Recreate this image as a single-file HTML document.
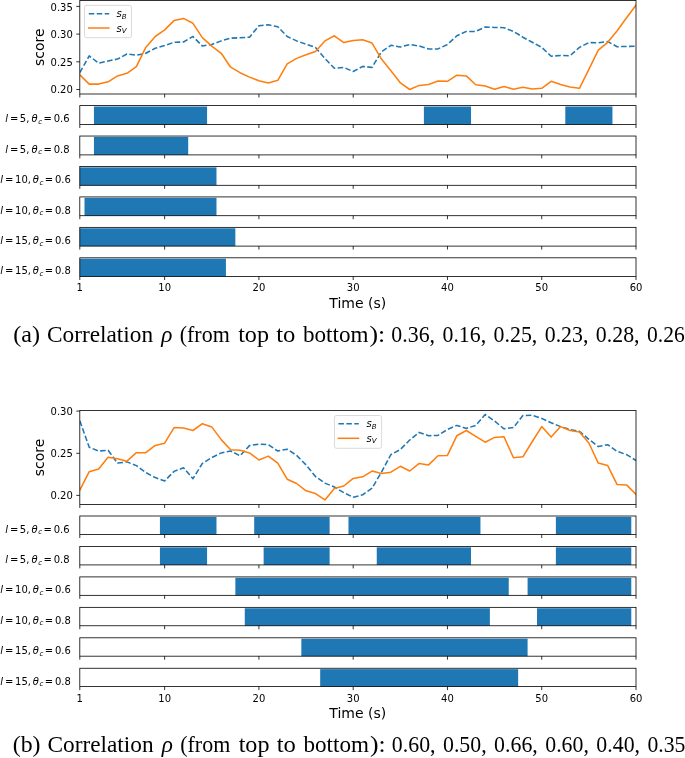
<!DOCTYPE html>
<html lang="en"><head><meta charset="utf-8"><title>Figure</title>
<style>
html,body{margin:0;padding:0;background:#fff;}
svg{display:block;}
text{fill:#000;}
.t10{font-family:"DejaVu Sans","Liberation Sans",sans-serif;font-size:10px;}
.t14{font-family:"DejaVu Sans","Liberation Sans",sans-serif;font-size:14px;}
.it{font-style:italic;}
.cap{font-family:"Liberation Serif","DejaVu Serif",serif;font-size:22.4px;}
</style></head><body>
<svg width="685" height="758" viewBox="0 0 685 758">
<rect width="685" height="758" fill="#fff"/>
<clipPath id="c1"><rect x="79.8" y="0.5" width="556.20" height="93.5"/></clipPath>
<g clip-path="url(#c1)">
<polyline points="79.80,72.60 89.23,55.90 98.65,63.20 108.08,61.00 117.51,59.10 126.94,54.00 136.36,55.20 145.79,53.30 155.22,48.20 164.64,45.50 174.07,42.30 183.50,42.00 192.93,36.50 202.35,46.00 211.78,44.50 221.21,40.90 230.63,38.20 240.06,37.70 249.49,37.20 258.92,25.80 268.34,24.80 277.77,26.70 287.20,36.50 296.62,40.90 306.05,44.20 315.48,47.40 324.91,58.40 334.33,68.30 343.76,67.40 353.19,71.50 362.61,66.40 372.04,67.40 381.47,51.80 390.89,45.30 400.32,47.00 409.75,44.50 419.18,46.00 428.60,48.90 438.03,48.90 447.46,44.50 456.88,35.80 466.31,31.40 475.74,31.40 485.17,27.00 494.59,27.40 504.02,27.70 513.45,31.40 522.87,37.20 532.30,42.30 541.73,47.40 551.16,56.20 560.58,55.50 570.01,55.80 579.44,47.40 588.86,42.60 598.29,42.80 607.72,41.60 617.15,46.70 626.57,46.40 636.00,46.30" fill="none" stroke="#1f77b4" stroke-width="1.55" stroke-linejoin="round" stroke-linecap="butt" stroke-dasharray="5.55 2.4"/>
<polyline points="79.80,74.90 89.23,84.10 98.65,84.10 108.08,81.80 117.51,75.90 126.94,73.30 136.36,66.70 145.79,47.40 155.22,36.50 164.64,29.90 174.07,20.60 183.50,18.40 192.93,23.30 202.35,37.70 211.78,46.20 221.21,53.30 230.63,67.20 240.06,72.70 249.49,77.10 258.92,80.70 268.34,82.90 277.77,80.30 287.20,63.90 296.62,58.40 306.05,54.70 315.48,51.40 324.91,40.90 334.33,35.80 343.76,42.60 353.19,40.40 362.61,39.80 372.04,43.10 381.47,59.10 390.89,70.80 400.32,82.80 409.75,89.50 419.18,85.40 428.60,84.40 438.03,81.00 447.46,81.30 456.88,75.20 466.31,75.90 475.74,84.70 485.17,86.10 494.59,89.30 504.02,86.40 513.45,89.30 522.87,87.30 532.30,89.00 541.73,88.30 551.16,81.30 560.58,84.40 570.01,86.90 579.44,88.30 588.86,69.30 598.29,50.10 607.72,42.30 617.15,30.70 626.57,17.80 636.00,5.10" fill="none" stroke="#ff7f0e" stroke-width="1.55" stroke-linejoin="round" stroke-linecap="square"/>
</g>
<rect x="79.8" y="0.5" width="556.20" height="93.50" fill="none" stroke="#000" stroke-width="0.8"/>
<line x1="79.80" x2="79.80" y1="94.0" y2="97.5" stroke="#000" stroke-width="0.8"/>
<line x1="164.64" x2="164.64" y1="94.0" y2="97.5" stroke="#000" stroke-width="0.8"/>
<line x1="258.92" x2="258.92" y1="94.0" y2="97.5" stroke="#000" stroke-width="0.8"/>
<line x1="353.19" x2="353.19" y1="94.0" y2="97.5" stroke="#000" stroke-width="0.8"/>
<line x1="447.46" x2="447.46" y1="94.0" y2="97.5" stroke="#000" stroke-width="0.8"/>
<line x1="541.73" x2="541.73" y1="94.0" y2="97.5" stroke="#000" stroke-width="0.8"/>
<line x1="636.00" x2="636.00" y1="94.0" y2="97.5" stroke="#000" stroke-width="0.8"/>
<line x1="76.3" x2="79.8" y1="6.4" y2="6.4" stroke="#000" stroke-width="0.8"/>
<text x="72.8" y="11.20" text-anchor="end" class="t10">0.35</text>
<line x1="76.3" x2="79.8" y1="34.1" y2="34.1" stroke="#000" stroke-width="0.8"/>
<text x="72.8" y="38.20" text-anchor="end" class="t10">0.30</text>
<line x1="76.3" x2="79.8" y1="61.8" y2="61.8" stroke="#000" stroke-width="0.8"/>
<text x="72.8" y="65.60" text-anchor="end" class="t10">0.25</text>
<line x1="76.3" x2="79.8" y1="89.5" y2="89.5" stroke="#000" stroke-width="0.8"/>
<text x="72.8" y="93.30" text-anchor="end" class="t10">0.20</text>
<text transform="translate(44.2,47.2) rotate(-90)" text-anchor="middle" class="t14">score</text>
<rect x="84.5" y="5.4" width="47.00" height="32.30" rx="2" ry="2" fill="#fff" fill-opacity="0.8" stroke="#ccc" stroke-opacity="0.8" stroke-width="0.9"/>
<line x1="88.8" x2="109.2" y1="13.7" y2="13.7" stroke="#1f77b4" stroke-width="1.5" stroke-dasharray="5.55 2.4"/>
<line x1="88.05" x2="109.60" y1="28.0" y2="28.0" stroke="#ff7f0e" stroke-width="1.5"/>
<text x="116.6" y="17.20" class="t10 it">s<tspan dy="1.6" font-size="7">B</tspan></text>
<text x="116.6" y="31.50" class="t10 it">s<tspan dy="1.6" font-size="7">V</tspan></text>
<rect x="93.94" y="106.50" width="113.13" height="18.00" fill="#1f77b4"/>
<rect x="423.89" y="106.50" width="47.14" height="18.00" fill="#1f77b4"/>
<rect x="565.30" y="106.50" width="47.14" height="18.00" fill="#1f77b4"/>
<rect x="79.8" y="105.6" width="556.20" height="18.90" fill="none" stroke="#000" stroke-width="0.8"/>
<line x1="79.80" x2="79.80" y1="124.5" y2="128.0" stroke="#000" stroke-width="0.8"/>
<line x1="164.64" x2="164.64" y1="124.5" y2="128.0" stroke="#000" stroke-width="0.8"/>
<line x1="258.92" x2="258.92" y1="124.5" y2="128.0" stroke="#000" stroke-width="0.8"/>
<line x1="353.19" x2="353.19" y1="124.5" y2="128.0" stroke="#000" stroke-width="0.8"/>
<line x1="447.46" x2="447.46" y1="124.5" y2="128.0" stroke="#000" stroke-width="0.8"/>
<line x1="541.73" x2="541.73" y1="124.5" y2="128.0" stroke="#000" stroke-width="0.8"/>
<line x1="636.00" x2="636.00" y1="124.5" y2="128.0" stroke="#000" stroke-width="0.8"/>
<text class="t10" y="122.35"><tspan class="it" x="5.2">l</tspan><tspan x="9.94">=</tspan><tspan x="19.8">5</tspan><tspan x="26.16">,</tspan><tspan class="it" x="31.6">θ</tspan><tspan class="it" x="38.2" y="123.95" font-size="7">c</tspan><tspan x="43.5" y="122.35">=</tspan><tspan x="53.7">0.6</tspan></text>
<rect x="93.94" y="136.94" width="94.27" height="17.96" fill="#1f77b4"/>
<rect x="79.8" y="136.04" width="556.20" height="18.86" fill="none" stroke="#000" stroke-width="0.8"/>
<line x1="79.80" x2="79.80" y1="154.9" y2="158.4" stroke="#000" stroke-width="0.8"/>
<line x1="164.64" x2="164.64" y1="154.9" y2="158.4" stroke="#000" stroke-width="0.8"/>
<line x1="258.92" x2="258.92" y1="154.9" y2="158.4" stroke="#000" stroke-width="0.8"/>
<line x1="353.19" x2="353.19" y1="154.9" y2="158.4" stroke="#000" stroke-width="0.8"/>
<line x1="447.46" x2="447.46" y1="154.9" y2="158.4" stroke="#000" stroke-width="0.8"/>
<line x1="541.73" x2="541.73" y1="154.9" y2="158.4" stroke="#000" stroke-width="0.8"/>
<line x1="636.00" x2="636.00" y1="154.9" y2="158.4" stroke="#000" stroke-width="0.8"/>
<text class="t10" y="152.77"><tspan class="it" x="5.2">l</tspan><tspan x="9.94">=</tspan><tspan x="19.8">5</tspan><tspan x="26.16">,</tspan><tspan class="it" x="31.6">θ</tspan><tspan class="it" x="38.2" y="154.37" font-size="7">c</tspan><tspan x="43.5" y="152.77">=</tspan><tspan x="53.7">0.8</tspan></text>
<rect x="79.80" y="167.38" width="136.69" height="17.92" fill="#1f77b4"/>
<rect x="79.8" y="166.48" width="556.20" height="18.82" fill="none" stroke="#000" stroke-width="0.8"/>
<line x1="79.80" x2="79.80" y1="185.3" y2="188.8" stroke="#000" stroke-width="0.8"/>
<line x1="164.64" x2="164.64" y1="185.3" y2="188.8" stroke="#000" stroke-width="0.8"/>
<line x1="258.92" x2="258.92" y1="185.3" y2="188.8" stroke="#000" stroke-width="0.8"/>
<line x1="353.19" x2="353.19" y1="185.3" y2="188.8" stroke="#000" stroke-width="0.8"/>
<line x1="447.46" x2="447.46" y1="185.3" y2="188.8" stroke="#000" stroke-width="0.8"/>
<line x1="541.73" x2="541.73" y1="185.3" y2="188.8" stroke="#000" stroke-width="0.8"/>
<line x1="636.00" x2="636.00" y1="185.3" y2="188.8" stroke="#000" stroke-width="0.8"/>
<text class="t10" y="183.19"><tspan class="it" x="0.3">l</tspan><tspan x="5.04">=</tspan><tspan x="15.1">10</tspan><tspan x="27.82">,</tspan><tspan class="it" x="32.8">θ</tspan><tspan class="it" x="39.4" y="184.79" font-size="7">c</tspan><tspan x="44.7" y="183.19">=</tspan><tspan x="54.9">0.6</tspan></text>
<rect x="84.51" y="197.82" width="131.98" height="17.88" fill="#1f77b4"/>
<rect x="79.8" y="196.92000000000002" width="556.20" height="18.78" fill="none" stroke="#000" stroke-width="0.8"/>
<line x1="79.80" x2="79.80" y1="215.7" y2="219.2" stroke="#000" stroke-width="0.8"/>
<line x1="164.64" x2="164.64" y1="215.7" y2="219.2" stroke="#000" stroke-width="0.8"/>
<line x1="258.92" x2="258.92" y1="215.7" y2="219.2" stroke="#000" stroke-width="0.8"/>
<line x1="353.19" x2="353.19" y1="215.7" y2="219.2" stroke="#000" stroke-width="0.8"/>
<line x1="447.46" x2="447.46" y1="215.7" y2="219.2" stroke="#000" stroke-width="0.8"/>
<line x1="541.73" x2="541.73" y1="215.7" y2="219.2" stroke="#000" stroke-width="0.8"/>
<line x1="636.00" x2="636.00" y1="215.7" y2="219.2" stroke="#000" stroke-width="0.8"/>
<text class="t10" y="213.61"><tspan class="it" x="0.3">l</tspan><tspan x="5.04">=</tspan><tspan x="15.1">10</tspan><tspan x="27.82">,</tspan><tspan class="it" x="32.8">θ</tspan><tspan class="it" x="39.4" y="215.21" font-size="7">c</tspan><tspan x="44.7" y="213.61">=</tspan><tspan x="54.9">0.8</tspan></text>
<rect x="79.80" y="228.26" width="155.55" height="17.84" fill="#1f77b4"/>
<rect x="79.8" y="227.36" width="556.20" height="18.74" fill="none" stroke="#000" stroke-width="0.8"/>
<line x1="79.80" x2="79.80" y1="246.1" y2="249.6" stroke="#000" stroke-width="0.8"/>
<line x1="164.64" x2="164.64" y1="246.1" y2="249.6" stroke="#000" stroke-width="0.8"/>
<line x1="258.92" x2="258.92" y1="246.1" y2="249.6" stroke="#000" stroke-width="0.8"/>
<line x1="353.19" x2="353.19" y1="246.1" y2="249.6" stroke="#000" stroke-width="0.8"/>
<line x1="447.46" x2="447.46" y1="246.1" y2="249.6" stroke="#000" stroke-width="0.8"/>
<line x1="541.73" x2="541.73" y1="246.1" y2="249.6" stroke="#000" stroke-width="0.8"/>
<line x1="636.00" x2="636.00" y1="246.1" y2="249.6" stroke="#000" stroke-width="0.8"/>
<text class="t10" y="244.03"><tspan class="it" x="0.3">l</tspan><tspan x="5.04">=</tspan><tspan x="15.1">15</tspan><tspan x="27.82">,</tspan><tspan class="it" x="32.8">θ</tspan><tspan class="it" x="39.4" y="245.63" font-size="7">c</tspan><tspan x="44.7" y="244.03">=</tspan><tspan x="54.9">0.6</tspan></text>
<rect x="79.80" y="258.70" width="146.12" height="17.80" fill="#1f77b4"/>
<rect x="79.8" y="257.8" width="556.20" height="18.70" fill="none" stroke="#000" stroke-width="0.8"/>
<line x1="79.80" x2="79.80" y1="276.5" y2="280.0" stroke="#000" stroke-width="0.8"/>
<text x="79.80" y="291.3" text-anchor="middle" class="t10">1</text>
<line x1="164.64" x2="164.64" y1="276.5" y2="280.0" stroke="#000" stroke-width="0.8"/>
<text x="164.64" y="291.3" text-anchor="middle" class="t10">10</text>
<line x1="258.92" x2="258.92" y1="276.5" y2="280.0" stroke="#000" stroke-width="0.8"/>
<text x="258.92" y="291.3" text-anchor="middle" class="t10">20</text>
<line x1="353.19" x2="353.19" y1="276.5" y2="280.0" stroke="#000" stroke-width="0.8"/>
<text x="353.19" y="291.3" text-anchor="middle" class="t10">30</text>
<line x1="447.46" x2="447.46" y1="276.5" y2="280.0" stroke="#000" stroke-width="0.8"/>
<text x="447.46" y="291.3" text-anchor="middle" class="t10">40</text>
<line x1="541.73" x2="541.73" y1="276.5" y2="280.0" stroke="#000" stroke-width="0.8"/>
<text x="541.73" y="291.3" text-anchor="middle" class="t10">50</text>
<line x1="636.00" x2="636.00" y1="276.5" y2="280.0" stroke="#000" stroke-width="0.8"/>
<text x="636.00" y="291.3" text-anchor="middle" class="t10">60</text>
<text class="t10" y="274.45"><tspan class="it" x="0.3">l</tspan><tspan x="5.04">=</tspan><tspan x="15.1">15</tspan><tspan x="27.82">,</tspan><tspan class="it" x="32.8">θ</tspan><tspan class="it" x="39.4" y="276.05" font-size="7">c</tspan><tspan x="44.7" y="274.45">=</tspan><tspan x="54.9">0.8</tspan></text>
<text x="357.8" y="307.8" text-anchor="middle" class="t14">Time (s)</text>
<text transform="translate(13.22,342.3) scale(1.0769,1)" class="cap">(a)</text>
<text transform="translate(46.96,342.3) scale(1.0402,1)" class="cap">Correlation</text>
<text transform="translate(161.22,342.3) scale(1.0381,1)" class="cap it">ρ</text>
<text transform="translate(179.72,342.3) scale(0.9809,1)" class="cap">(from</text>
<text transform="translate(238.13,342.3) scale(1.0764,1)" class="cap">top</text>
<text transform="translate(276.22,342.3) scale(1.1015,1)" class="cap">to</text>
<text transform="translate(303.00,342.3) scale(1.0317,1)" class="cap">bottom</text>
<text transform="translate(369.44,342.3) scale(1.1455,1)" class="cap">):</text>
<text transform="translate(391.37,342.3) scale(0.9754,1)" class="cap">0.36,</text>
<text transform="translate(442.49,342.3) scale(0.9754,1)" class="cap">0.16,</text>
<text transform="translate(493.61,342.3) scale(0.9754,1)" class="cap">0.25,</text>
<text transform="translate(544.73,342.3) scale(0.9754,1)" class="cap">0.23,</text>
<text transform="translate(595.85,342.3) scale(0.9754,1)" class="cap">0.28,</text>
<text transform="translate(646.98,342.3) scale(0.9616,1)" class="cap">0.26</text>
<clipPath id="c2"><rect x="79.8" y="410.55" width="556.20" height="93.94999999999999"/></clipPath>
<g clip-path="url(#c2)">
<polyline points="79.80,420.80 89.23,447.30 98.65,451.00 108.08,450.30 117.51,463.10 126.94,461.90 136.36,465.60 145.79,472.60 155.22,477.60 164.64,480.90 174.07,471.40 183.50,467.80 192.93,478.70 202.35,463.40 211.78,457.60 221.21,452.90 230.63,451.00 240.06,455.80 249.49,445.60 258.92,444.10 268.34,444.70 277.77,451.00 287.20,449.20 296.62,455.40 306.05,464.90 315.48,476.50 324.91,483.10 334.33,487.00 343.76,492.60 353.19,497.30 362.61,494.80 372.04,488.20 381.47,472.20 390.89,454.60 400.32,449.50 409.75,440.00 419.18,432.40 428.60,435.70 438.03,435.40 447.46,429.50 456.88,425.40 466.31,428.40 475.74,425.40 485.17,414.50 494.59,421.10 504.02,428.80 513.45,427.60 522.87,415.50 532.30,415.20 541.73,418.40 551.16,422.80 560.58,426.60 570.01,429.50 579.44,431.30 588.86,439.30 598.29,446.60 607.72,444.70 617.15,451.40 626.57,454.60 636.00,460.50" fill="none" stroke="#1f77b4" stroke-width="1.55" stroke-linejoin="round" stroke-linecap="butt" stroke-dasharray="5.55 2.4"/>
<polyline points="79.80,490.10 89.23,471.70 98.65,468.90 108.08,457.30 117.51,458.70 126.94,461.20 136.36,452.70 145.79,452.70 155.22,445.40 164.64,443.20 174.07,427.60 183.50,427.90 192.93,430.50 202.35,423.70 211.78,426.90 221.21,439.60 230.63,449.80 240.06,450.30 249.49,452.90 258.92,460.00 268.34,456.10 277.77,463.10 287.20,479.20 296.62,483.50 306.05,490.80 315.48,493.60 324.91,499.90 334.33,488.50 343.76,486.00 353.19,478.40 362.61,476.80 372.04,471.10 381.47,473.60 390.89,472.20 400.32,466.30 409.75,471.00 419.18,463.40 428.60,464.90 438.03,455.80 447.46,455.40 456.88,435.70 466.31,430.50 475.74,436.40 485.17,442.20 494.59,437.40 504.02,436.80 513.45,457.80 522.87,456.80 532.30,441.50 541.73,426.60 551.16,437.10 560.58,426.60 570.01,430.50 579.44,432.00 588.86,443.00 598.29,463.10 607.72,465.60 617.15,484.60 626.57,484.90 636.00,494.30" fill="none" stroke="#ff7f0e" stroke-width="1.55" stroke-linejoin="round" stroke-linecap="square"/>
</g>
<rect x="79.8" y="410.55" width="556.20" height="93.95" fill="none" stroke="#000" stroke-width="0.8"/>
<line x1="79.80" x2="79.80" y1="504.5" y2="508.0" stroke="#000" stroke-width="0.8"/>
<line x1="164.64" x2="164.64" y1="504.5" y2="508.0" stroke="#000" stroke-width="0.8"/>
<line x1="258.92" x2="258.92" y1="504.5" y2="508.0" stroke="#000" stroke-width="0.8"/>
<line x1="353.19" x2="353.19" y1="504.5" y2="508.0" stroke="#000" stroke-width="0.8"/>
<line x1="447.46" x2="447.46" y1="504.5" y2="508.0" stroke="#000" stroke-width="0.8"/>
<line x1="541.73" x2="541.73" y1="504.5" y2="508.0" stroke="#000" stroke-width="0.8"/>
<line x1="636.00" x2="636.00" y1="504.5" y2="508.0" stroke="#000" stroke-width="0.8"/>
<line x1="76.3" x2="79.8" y1="411.1" y2="411.1" stroke="#000" stroke-width="0.8"/>
<text x="72.8" y="414.90" text-anchor="end" class="t10">0.30</text>
<line x1="76.3" x2="79.8" y1="453.3" y2="453.3" stroke="#000" stroke-width="0.8"/>
<text x="72.8" y="457.10" text-anchor="end" class="t10">0.25</text>
<line x1="76.3" x2="79.8" y1="495.4" y2="495.4" stroke="#000" stroke-width="0.8"/>
<text x="72.8" y="499.20" text-anchor="end" class="t10">0.20</text>
<text transform="translate(44.2,457.4) rotate(-90)" text-anchor="middle" class="t14">score</text>
<rect x="334.5" y="415.5" width="47.10" height="32.80" rx="2" ry="2" fill="#fff" fill-opacity="0.8" stroke="#ccc" stroke-opacity="0.8" stroke-width="0.9"/>
<line x1="338.4" x2="358.8" y1="423.7" y2="423.7" stroke="#1f77b4" stroke-width="1.5" stroke-dasharray="5.55 2.4"/>
<line x1="337.65" x2="359.20" y1="438.3" y2="438.3" stroke="#ff7f0e" stroke-width="1.5"/>
<text x="366.6" y="427.20" class="t10 it">s<tspan dy="1.6" font-size="7">B</tspan></text>
<text x="366.6" y="441.80" class="t10 it">s<tspan dy="1.6" font-size="7">V</tspan></text>
<rect x="159.93" y="516.90" width="56.56" height="17.60" fill="#1f77b4"/>
<rect x="254.20" y="516.90" width="75.42" height="17.60" fill="#1f77b4"/>
<rect x="348.47" y="516.90" width="131.98" height="17.60" fill="#1f77b4"/>
<rect x="555.87" y="516.90" width="75.42" height="17.60" fill="#1f77b4"/>
<rect x="79.8" y="516.0" width="556.20" height="18.50" fill="none" stroke="#000" stroke-width="0.8"/>
<line x1="79.80" x2="79.80" y1="534.5" y2="538.0" stroke="#000" stroke-width="0.8"/>
<line x1="164.64" x2="164.64" y1="534.5" y2="538.0" stroke="#000" stroke-width="0.8"/>
<line x1="258.92" x2="258.92" y1="534.5" y2="538.0" stroke="#000" stroke-width="0.8"/>
<line x1="353.19" x2="353.19" y1="534.5" y2="538.0" stroke="#000" stroke-width="0.8"/>
<line x1="447.46" x2="447.46" y1="534.5" y2="538.0" stroke="#000" stroke-width="0.8"/>
<line x1="541.73" x2="541.73" y1="534.5" y2="538.0" stroke="#000" stroke-width="0.8"/>
<line x1="636.00" x2="636.00" y1="534.5" y2="538.0" stroke="#000" stroke-width="0.8"/>
<text class="t10" y="532.55"><tspan class="it" x="5.2">l</tspan><tspan x="9.94">=</tspan><tspan x="19.8">5</tspan><tspan x="26.16">,</tspan><tspan class="it" x="31.6">θ</tspan><tspan class="it" x="38.2" y="534.15" font-size="7">c</tspan><tspan x="43.5" y="532.55">=</tspan><tspan x="53.7">0.6</tspan></text>
<rect x="159.93" y="547.35" width="47.14" height="17.57" fill="#1f77b4"/>
<rect x="263.63" y="547.35" width="65.99" height="17.57" fill="#1f77b4"/>
<rect x="376.75" y="547.35" width="94.27" height="17.57" fill="#1f77b4"/>
<rect x="555.87" y="547.35" width="75.42" height="17.57" fill="#1f77b4"/>
<rect x="79.8" y="546.45" width="556.20" height="18.47" fill="none" stroke="#000" stroke-width="0.8"/>
<line x1="79.80" x2="79.80" y1="564.92" y2="568.42" stroke="#000" stroke-width="0.8"/>
<line x1="164.64" x2="164.64" y1="564.92" y2="568.42" stroke="#000" stroke-width="0.8"/>
<line x1="258.92" x2="258.92" y1="564.92" y2="568.42" stroke="#000" stroke-width="0.8"/>
<line x1="353.19" x2="353.19" y1="564.92" y2="568.42" stroke="#000" stroke-width="0.8"/>
<line x1="447.46" x2="447.46" y1="564.92" y2="568.42" stroke="#000" stroke-width="0.8"/>
<line x1="541.73" x2="541.73" y1="564.92" y2="568.42" stroke="#000" stroke-width="0.8"/>
<line x1="636.00" x2="636.00" y1="564.92" y2="568.42" stroke="#000" stroke-width="0.8"/>
<text class="t10" y="562.98"><tspan class="it" x="5.2">l</tspan><tspan x="9.94">=</tspan><tspan x="19.8">5</tspan><tspan x="26.16">,</tspan><tspan class="it" x="31.6">θ</tspan><tspan class="it" x="38.2" y="564.58" font-size="7">c</tspan><tspan x="43.5" y="562.98">=</tspan><tspan x="53.7">0.8</tspan></text>
<rect x="235.35" y="577.80" width="273.39" height="17.54" fill="#1f77b4"/>
<rect x="527.59" y="577.80" width="103.70" height="17.54" fill="#1f77b4"/>
<rect x="79.8" y="576.9" width="556.20" height="18.44" fill="none" stroke="#000" stroke-width="0.8"/>
<line x1="79.80" x2="79.80" y1="595.34" y2="598.84" stroke="#000" stroke-width="0.8"/>
<line x1="164.64" x2="164.64" y1="595.34" y2="598.84" stroke="#000" stroke-width="0.8"/>
<line x1="258.92" x2="258.92" y1="595.34" y2="598.84" stroke="#000" stroke-width="0.8"/>
<line x1="353.19" x2="353.19" y1="595.34" y2="598.84" stroke="#000" stroke-width="0.8"/>
<line x1="447.46" x2="447.46" y1="595.34" y2="598.84" stroke="#000" stroke-width="0.8"/>
<line x1="541.73" x2="541.73" y1="595.34" y2="598.84" stroke="#000" stroke-width="0.8"/>
<line x1="636.00" x2="636.00" y1="595.34" y2="598.84" stroke="#000" stroke-width="0.8"/>
<text class="t10" y="593.42"><tspan class="it" x="0.3">l</tspan><tspan x="5.04">=</tspan><tspan x="15.1">10</tspan><tspan x="27.82">,</tspan><tspan class="it" x="32.8">θ</tspan><tspan class="it" x="39.4" y="595.02" font-size="7">c</tspan><tspan x="44.7" y="593.42">=</tspan><tspan x="54.9">0.6</tspan></text>
<rect x="244.77" y="608.25" width="245.11" height="17.51" fill="#1f77b4"/>
<rect x="537.02" y="608.25" width="94.27" height="17.51" fill="#1f77b4"/>
<rect x="79.8" y="607.35" width="556.20" height="18.41" fill="none" stroke="#000" stroke-width="0.8"/>
<line x1="79.80" x2="79.80" y1="625.76" y2="629.26" stroke="#000" stroke-width="0.8"/>
<line x1="164.64" x2="164.64" y1="625.76" y2="629.26" stroke="#000" stroke-width="0.8"/>
<line x1="258.92" x2="258.92" y1="625.76" y2="629.26" stroke="#000" stroke-width="0.8"/>
<line x1="353.19" x2="353.19" y1="625.76" y2="629.26" stroke="#000" stroke-width="0.8"/>
<line x1="447.46" x2="447.46" y1="625.76" y2="629.26" stroke="#000" stroke-width="0.8"/>
<line x1="541.73" x2="541.73" y1="625.76" y2="629.26" stroke="#000" stroke-width="0.8"/>
<line x1="636.00" x2="636.00" y1="625.76" y2="629.26" stroke="#000" stroke-width="0.8"/>
<text class="t10" y="623.86"><tspan class="it" x="0.3">l</tspan><tspan x="5.04">=</tspan><tspan x="15.1">10</tspan><tspan x="27.82">,</tspan><tspan class="it" x="32.8">θ</tspan><tspan class="it" x="39.4" y="625.46" font-size="7">c</tspan><tspan x="44.7" y="623.86">=</tspan><tspan x="54.9">0.8</tspan></text>
<rect x="301.34" y="638.70" width="226.25" height="17.48" fill="#1f77b4"/>
<rect x="79.8" y="637.8" width="556.20" height="18.38" fill="none" stroke="#000" stroke-width="0.8"/>
<line x1="79.80" x2="79.80" y1="656.1800000000001" y2="659.6800000000001" stroke="#000" stroke-width="0.8"/>
<line x1="164.64" x2="164.64" y1="656.1800000000001" y2="659.6800000000001" stroke="#000" stroke-width="0.8"/>
<line x1="258.92" x2="258.92" y1="656.1800000000001" y2="659.6800000000001" stroke="#000" stroke-width="0.8"/>
<line x1="353.19" x2="353.19" y1="656.1800000000001" y2="659.6800000000001" stroke="#000" stroke-width="0.8"/>
<line x1="447.46" x2="447.46" y1="656.1800000000001" y2="659.6800000000001" stroke="#000" stroke-width="0.8"/>
<line x1="541.73" x2="541.73" y1="656.1800000000001" y2="659.6800000000001" stroke="#000" stroke-width="0.8"/>
<line x1="636.00" x2="636.00" y1="656.1800000000001" y2="659.6800000000001" stroke="#000" stroke-width="0.8"/>
<text class="t10" y="654.29"><tspan class="it" x="0.3">l</tspan><tspan x="5.04">=</tspan><tspan x="15.1">15</tspan><tspan x="27.82">,</tspan><tspan class="it" x="32.8">θ</tspan><tspan class="it" x="39.4" y="655.89" font-size="7">c</tspan><tspan x="44.7" y="654.29">=</tspan><tspan x="54.9">0.6</tspan></text>
<rect x="320.19" y="669.15" width="197.97" height="17.45" fill="#1f77b4"/>
<rect x="79.8" y="668.25" width="556.20" height="18.35" fill="none" stroke="#000" stroke-width="0.8"/>
<line x1="79.80" x2="79.80" y1="686.6" y2="690.1" stroke="#000" stroke-width="0.8"/>
<text x="79.80" y="701.6" text-anchor="middle" class="t10">1</text>
<line x1="164.64" x2="164.64" y1="686.6" y2="690.1" stroke="#000" stroke-width="0.8"/>
<text x="164.64" y="701.6" text-anchor="middle" class="t10">10</text>
<line x1="258.92" x2="258.92" y1="686.6" y2="690.1" stroke="#000" stroke-width="0.8"/>
<text x="258.92" y="701.6" text-anchor="middle" class="t10">20</text>
<line x1="353.19" x2="353.19" y1="686.6" y2="690.1" stroke="#000" stroke-width="0.8"/>
<text x="353.19" y="701.6" text-anchor="middle" class="t10">30</text>
<line x1="447.46" x2="447.46" y1="686.6" y2="690.1" stroke="#000" stroke-width="0.8"/>
<text x="447.46" y="701.6" text-anchor="middle" class="t10">40</text>
<line x1="541.73" x2="541.73" y1="686.6" y2="690.1" stroke="#000" stroke-width="0.8"/>
<text x="541.73" y="701.6" text-anchor="middle" class="t10">50</text>
<line x1="636.00" x2="636.00" y1="686.6" y2="690.1" stroke="#000" stroke-width="0.8"/>
<text x="636.00" y="701.6" text-anchor="middle" class="t10">60</text>
<text class="t10" y="684.72"><tspan class="it" x="0.3">l</tspan><tspan x="5.04">=</tspan><tspan x="15.1">15</tspan><tspan x="27.82">,</tspan><tspan class="it" x="32.8">θ</tspan><tspan class="it" x="39.4" y="686.32" font-size="7">c</tspan><tspan x="44.7" y="684.72">=</tspan><tspan x="54.9">0.8</tspan></text>
<text x="357.8" y="718.3" text-anchor="middle" class="t14">Time (s)</text>
<text transform="translate(12.74,752.4) scale(1.0625,1)" class="cap">(b)</text>
<text transform="translate(47.46,752.4) scale(1.0402,1)" class="cap">Correlation</text>
<text transform="translate(161.72,752.4) scale(1.0381,1)" class="cap it">ρ</text>
<text transform="translate(180.22,752.4) scale(0.9809,1)" class="cap">(from</text>
<text transform="translate(238.63,752.4) scale(1.0764,1)" class="cap">top</text>
<text transform="translate(276.72,752.4) scale(1.1015,1)" class="cap">to</text>
<text transform="translate(303.50,752.4) scale(1.0317,1)" class="cap">bottom</text>
<text transform="translate(369.94,752.4) scale(1.1455,1)" class="cap">):</text>
<text transform="translate(391.87,752.4) scale(0.9754,1)" class="cap">0.60,</text>
<text transform="translate(442.99,752.4) scale(0.9754,1)" class="cap">0.50,</text>
<text transform="translate(494.11,752.4) scale(0.9754,1)" class="cap">0.66,</text>
<text transform="translate(545.23,752.4) scale(0.9754,1)" class="cap">0.60,</text>
<text transform="translate(596.35,752.4) scale(0.9754,1)" class="cap">0.40,</text>
<text transform="translate(647.47,752.4) scale(0.9680,1)" class="cap">0.35</text>
</svg>
</body></html>
